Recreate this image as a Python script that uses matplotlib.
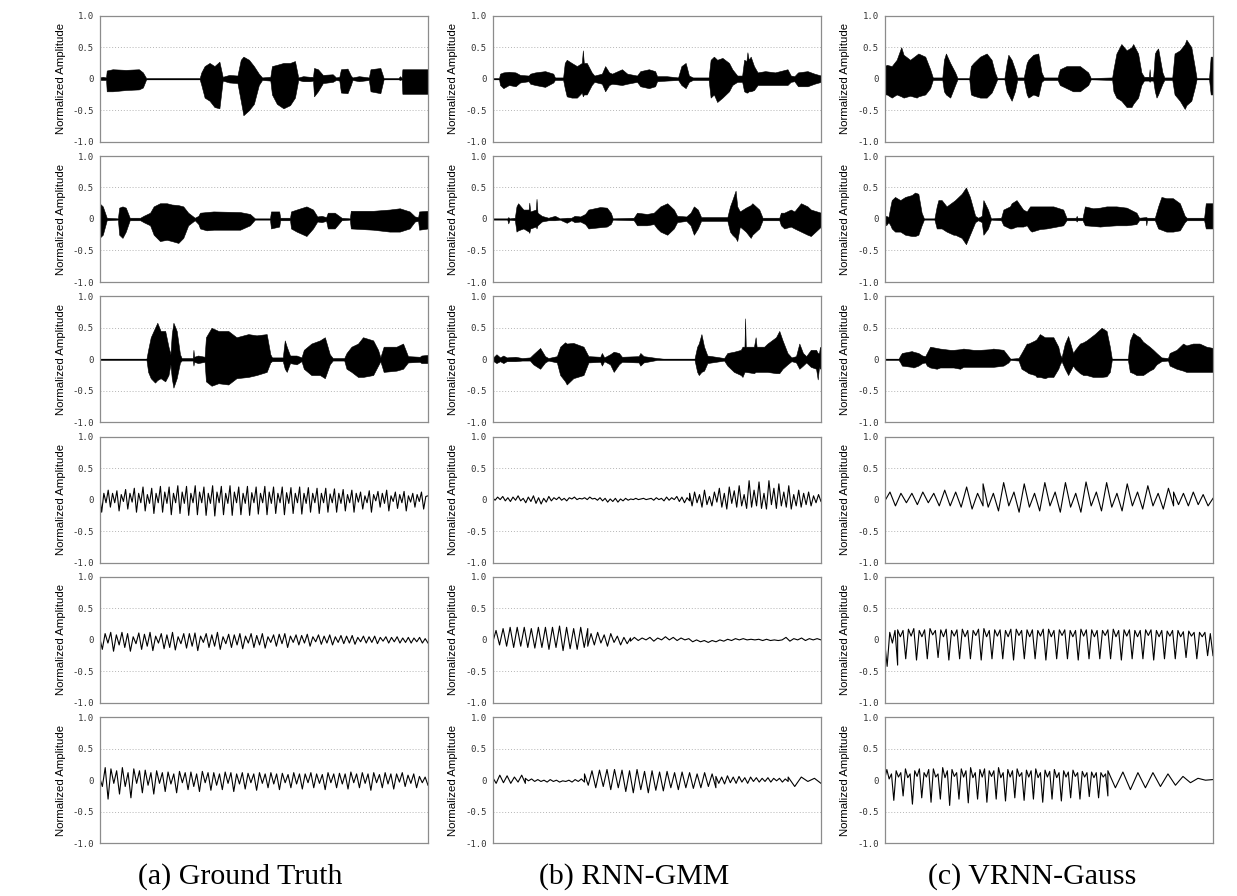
import numpy as np
import matplotlib
matplotlib.use("Agg")
import matplotlib.pyplot as plt

# ---- dense speech clips: envelope knots (time % of clip, upper, lower) ----
gt_1 = [(0, 0.02, -0.02), (1, 0.03, -0.02), (2, 0.02, -0.02), (2.2, 0.13, -0.2), (4, 0.15, -0.2),
        (8, 0.14, -0.18), (12, 0.15, -0.17), (13.2, 0.1, -0.14), (14.2, 0.01, -0.01), (30.5, 0.01, -0.01),
        (31, 0.1, -0.1), (32, 0.2, -0.3), (33.5, 0.25, -0.35), (35, 0.2, -0.45), (36.5, 0.27, -0.47),
        (37.5, 0.03, -0.03), (39.5, 0.06, -0.06), (42, 0.05, -0.07), (43, 0.3, -0.35), (43.8, 0.35, -0.58),
        (45.5, 0.3, -0.5), (47, 0.2, -0.4), (48.5, 0.08, -0.1), (49.5, 0.02, -0.02), (52, 0.03, -0.03),
        (52.5, 0.2, -0.25), (54, 0.22, -0.4), (56, 0.25, -0.47), (58, 0.25, -0.42), (59.5, 0.28, -0.3),
        (60.5, 0.02, -0.02), (62, 0.04, -0.04), (64, 0.03, -0.04), (65, 0.03, -0.03), (65.3, 0.17, -0.28),
        (66.5, 0.15, -0.2), (68, 0.06, -0.07), (71, 0.07, -0.05), (72, 0.02, -0.02), (73, 0.03, -0.03),
        (73.5, 0.15, -0.22), (75.5, 0.16, -0.23), (76.5, 0.05, -0.1), (77, 0.02, -0.02), (79, 0.04, -0.04),
        (82, 0.02, -0.02), (82.5, 0.15, -0.2), (85.5, 0.17, -0.23), (86.5, 0.01, -0.01), (91, 0.01, -0.01),
        (91.5, 0.04, -0.02), (92, 0.01, -0.01), (92.2, 0.15, -0.24), (100, 0.15, -0.24)]

gt_2 = [(0, 0.25, -0.3), (1, 0.2, -0.25), (2.2, 0.02, -0.02), (5.6, 0.01, -0.01), (6, 0.18, -0.25),
        (7, 0.2, -0.3), (8, 0.18, -0.2), (9.2, 0.02, -0.02), (12.4, 0.02, -0.02), (13.4, 0.05, -0.05),
        (15.4, 0.1, -0.1), (16.5, 0.2, -0.25), (18.4, 0.25, -0.35), (20.5, 0.25, -0.33), (22, 0.23, -0.35),
        (24, 0.22, -0.38), (25.5, 0.2, -0.3), (27, 0.1, -0.1), (29, 0.02, -0.02), (30.1, 0.05, -0.08),
        (30.6, 0.1, -0.15), (32.6, 0.11, -0.18), (34.7, 0.12, -0.17), (42.8, 0.11, -0.17), (45.8, 0.08, -0.1),
        (47.3, 0.01, -0.01), (51.9, 0.01, -0.01), (52.2, 0.12, -0.15), (54.7, 0.12, -0.12), (55, 0.02, -0.02),
        (58, 0.02, -0.02), (58.3, 0.12, -0.15), (60, 0.15, -0.2), (63, 0.2, -0.27), (65, 0.15, -0.15),
        (66.3, 0.04, -0.04), (67.6, 0.05, -0.05), (69, 0.03, -0.03), (69.5, 0.1, -0.15), (71.6, 0.1, -0.15),
        (73.7, 0.02, -0.02), (76.2, 0.01, -0.01), (76.5, 0.13, -0.15), (83.3, 0.13, -0.17), (88.3, 0.15, -0.2),
        (91.4, 0.17, -0.2), (94.4, 0.12, -0.15), (96, 0.04, -0.04), (97, 0.03, -0.03), (97.3, 0.12, -0.17),
        (100, 0.13, -0.15)]

gt_3 = [(0, 0.01, -0.01), (14.3, 0.01, -0.01), (14.8, 0.15, -0.2), (15.6, 0.35, -0.3), (16.9, 0.5, -0.37),
        (17.6, 0.58, -0.33), (18.6, 0.45, -0.3), (20, 0.45, -0.35), (21, 0.2, -0.25), (21.6, 0.08, -0.08),
        (22, 0.4, -0.3), (22.5, 0.58, -0.45), (23.5, 0.45, -0.3), (24.5, 0.08, -0.05), (25, 0.02, -0.02),
        (28.4, 0.02, -0.02), (28.6, 0.15, -0.1), (28.8, 0.04, -0.04), (30, 0.06, -0.06), (32, 0.04, -0.04),
        (32.4, 0.35, -0.35), (34.1, 0.5, -0.42), (36.2, 0.45, -0.38), (39.2, 0.45, -0.4), (41.7, 0.35, -0.3),
        (45.3, 0.4, -0.28), (47.8, 0.38, -0.25), (50.9, 0.4, -0.2), (52, 0.08, -0.05), (52.5, 0.03, -0.03),
        (55.8, 0.03, -0.03), (56.4, 0.3, -0.15), (57, 0.2, -0.2), (58, 0.06, -0.06), (60, 0.06, -0.08),
        (61.5, 0.03, -0.03), (62.2, 0.15, -0.15), (64.5, 0.25, -0.25), (67.1, 0.3, -0.25), (68.6, 0.35, -0.3),
        (70.1, 0.08, -0.08), (71, 0.02, -0.02), (74.5, 0.02, -0.02), (75.2, 0.1, -0.15), (76.7, 0.2, -0.2),
        (78.7, 0.25, -0.28), (80.2, 0.35, -0.28), (83.3, 0.3, -0.25), (84.8, 0.15, -0.1), (85.5, 0.03, -0.03),
        (86.5, 0.2, -0.2), (90.4, 0.2, -0.18), (92.4, 0.25, -0.15), (93.9, 0.05, -0.05), (97.5, 0.04, -0.04),
        (98, 0.06, -0.06), (100, 0.07, -0.06)]

rnn_1 = [(0, 0.01, -0.01), (2, 0.01, -0.01), (2.3, 0.08, -0.1), (3.3, 0.1, -0.15), (5, 0.11, -0.1),
         (7, 0.1, -0.12), (8.4, 0.06, -0.06), (11, 0.05, -0.04), (11.5, 0.08, -0.08), (13, 0.1, -0.1),
         (16, 0.12, -0.13), (18.5, 0.08, -0.06), (19, 0.02, -0.02), (21.5, 0.02, -0.02), (22, 0.25, -0.15),
         (22.6, 0.3, -0.28), (24.1, 0.25, -0.3), (25.7, 0.2, -0.3), (27.2, 0.25, -0.22), (27.5, 0.45, -0.28),
         (27.8, 0.25, -0.25), (28.7, 0.25, -0.25), (30.2, 0.1, -0.1), (31, 0.05, -0.05), (33.3, 0.08, -0.08),
         (34.3, 0.2, -0.2), (35.5, 0.1, -0.1), (36.4, 0.08, -0.08), (39.4, 0.15, -0.1), (41, 0.08, -0.08),
         (44, 0.05, -0.05), (45, 0.12, -0.12), (47.6, 0.15, -0.15), (49.5, 0.12, -0.12), (50.1, 0.04, -0.04),
         (53, 0.04, -0.03), (56.5, 0.02, -0.02), (57.5, 0.2, -0.1), (58.8, 0.25, -0.15), (59.8, 0.05, -0.05),
         (61, 0.02, -0.02), (65.8, 0.02, -0.02), (66.4, 0.3, -0.3), (67.4, 0.35, -0.25), (68.4, 0.3, -0.37),
         (70, 0.33, -0.3), (72, 0.25, -0.2), (73, 0.15, -0.1), (74.5, 0.05, -0.05), (76, 0.05, -0.05),
         (76.6, 0.3, -0.2), (77.3, 0.28, -0.22), (77.6, 0.42, -0.22), (78, 0.3, -0.2), (78.6, 0.35, -0.2),
         (79.6, 0.2, -0.18), (80.7, 0.1, -0.1), (83, 0.12, -0.1), (86, 0.1, -0.1), (89.8, 0.15, -0.1),
         (90.8, 0.05, -0.05), (91.9, 0.04, -0.04), (93, 0.1, -0.12), (95.9, 0.12, -0.12), (98, 0.08, -0.08),
         (100, 0.05, -0.05)]

rnn_2 = [(0, 0.01, -0.01), (4.5, 0.01, -0.01), (4.8, 0.03, -0.07), (5.2, 0.01, -0.01), (6.8, 0.02, -0.02),
         (7.3, 0.2, -0.2), (7.8, 0.25, -0.18), (9.4, 0.15, -0.15), (11, 0.15, -0.2), (11.2, 0.26, -0.22),
         (11.5, 0.12, -0.15), (13.2, 0.15, -0.12), (13.4, 0.32, -0.15), (13.7, 0.1, -0.1), (15, 0.05, -0.04),
         (17, 0.02, -0.02), (19, 0.05, -0.02), (20.5, 0.01, -0.01), (22.6, 0.02, -0.06), (24, 0.02, -0.02),
         (25, 0.05, -0.05), (26.7, 0.04, -0.04), (28.2, 0.08, -0.08), (29.2, 0.15, -0.15), (32.8, 0.19, -0.13),
         (34.8, 0.18, -0.12), (36, 0.1, -0.08), (36.6, 0.01, -0.01), (43, 0.02, -0.02), (44, 0.1, -0.1),
         (47, 0.08, -0.1), (49.1, 0.1, -0.08), (50.1, 0.15, -0.15), (51.1, 0.2, -0.2), (53.2, 0.25, -0.25),
         (55.2, 0.15, -0.15), (56.2, 0.05, -0.05), (59, 0.04, -0.03), (60.3, 0.1, -0.1), (61.3, 0.2, -0.25),
         (62.5, 0.15, -0.15), (63.5, 0.03, -0.03), (71.5, 0.03, -0.03), (72.3, 0.2, -0.2), (73, 0.3, -0.25),
         (74, 0.45, -0.3), (74.5, 0.2, -0.35), (75.3, 0.12, -0.12), (77.1, 0.18, -0.2), (78.6, 0.22, -0.3),
         (79.1, 0.25, -0.25), (81.2, 0.15, -0.15), (82.2, 0.02, -0.02), (87.3, 0.02, -0.02), (87.8, 0.1, -0.1),
         (88.8, 0.1, -0.15), (90.8, 0.15, -0.12), (91.9, 0.12, -0.15), (93.9, 0.25, -0.2), (95.9, 0.2, -0.25),
         (96.9, 0.15, -0.27), (100, 0.1, -0.12)]

rnn_3 = [(0, 0.02, -0.02), (1.2, 0.08, -0.06), (2.3, 0.03, -0.03), (3.3, 0.06, -0.06), (4.3, 0.03, -0.03),
         (7, 0.04, -0.03), (9, 0.02, -0.02), (11.4, 0.03, -0.02), (12.4, 0.08, -0.08), (14.5, 0.18, -0.15),
         (16, 0.05, -0.05), (17, 0.02, -0.02), (19.6, 0.05, -0.05), (20.6, 0.2, -0.25), (22.1, 0.27, -0.35),
         (22.6, 0.25, -0.4), (24.6, 0.26, -0.3), (27.7, 0.2, -0.25), (29.2, 0.05, -0.05), (32.8, 0.04, -0.04),
         (33.3, 0.1, -0.1), (34, 0.03, -0.03), (35.8, 0.08, -0.08), (36.9, 0.12, -0.2), (38.5, 0.1, -0.08),
         (39.4, 0.04, -0.04), (44.5, 0.05, -0.05), (45, 0.1, -0.1), (46, 0.05, -0.05), (50.1, 0.02, -0.01),
         (52, 0.01, -0.01), (61.5, 0.01, -0.01), (62.3, 0.2, -0.2), (62.8, 0.25, -0.25), (63.6, 0.4, -0.2),
         (64.4, 0.2, -0.18), (65.4, 0.06, -0.06), (68, 0.04, -0.04), (70.5, 0.02, -0.02), (71.5, 0.1, -0.1),
         (73.5, 0.12, -0.2), (75.6, 0.15, -0.25), (76.1, 0.2, -0.28), (76.7, 0.2, -0.2), (76.9, 0.65, -0.2),
         (77.1, 0.2, -0.2), (79.6, 0.2, -0.22), (80.1, 0.35, -0.2), (80.4, 0.2, -0.2), (82.7, 0.2, -0.2),
         (83.7, 0.25, -0.2), (86.3, 0.35, -0.22), (87.3, 0.45, -0.22), (88.3, 0.3, -0.15), (89.8, 0.1, -0.08),
         (91, 0.03, -0.03), (92.4, 0.05, -0.05), (93.4, 0.25, -0.15), (94.5, 0.1, -0.1), (95.5, 0.05, -0.05),
         (96.9, 0.15, -0.12), (98.5, 0.15, -0.15), (99, 0.1, -0.32), (99.4, 0.1, -0.12), (99.7, 0.2, -0.15),
         (100, 0.1, -0.1)]

vrnn_1 = [(0, 0.2, -0.25), (0.7, 0.22, -0.25), (2.2, 0.2, -0.3), (3.7, 0.3, -0.25), (5.1, 0.5, -0.28),
          (5.8, 0.38, -0.3), (7.8, 0.3, -0.27), (9.8, 0.38, -0.3), (10.3, 0.4, -0.28), (12.4, 0.35, -0.25),
          (13.9, 0.15, -0.15), (14.7, 0.02, -0.02), (17.6, 0.02, -0.02), (18.1, 0.3, -0.2), (18.7, 0.4, -0.25),
          (20, 0.25, -0.3), (21.5, 0.1, -0.1), (22.2, 0.01, -0.01), (25.8, 0.01, -0.01), (26.3, 0.2, -0.25),
          (27.1, 0.25, -0.27), (29.1, 0.35, -0.3), (31.1, 0.4, -0.3), (32.6, 0.3, -0.22), (33.6, 0.1, -0.1),
          (34.3, 0.01, -0.01), (36.5, 0.01, -0.01), (37.2, 0.25, -0.2), (37.7, 0.38, -0.25), (38.7, 0.3, -0.35),
          (39.7, 0.15, -0.2), (40.4, 0.02, -0.02), (42.4, 0.02, -0.02), (43.3, 0.25, -0.25), (43.8, 0.3, -0.3),
          (45.3, 0.38, -0.25), (46.8, 0.4, -0.28), (47.8, 0.1, -0.05), (48.5, 0.02, -0.02), (52.7, 0.02, -0.02),
          (53.4, 0.15, -0.1), (55.4, 0.2, -0.15), (57.4, 0.2, -0.2), (59.5, 0.2, -0.2), (62, 0.1, -0.1),
          (62.8, 0.01, -0.01), (69.3, 0.02, -0.02), (69.7, 0.15, -0.2), (70.6, 0.4, -0.3), (72.1, 0.55, -0.35),
          (73.7, 0.45, -0.45), (75.2, 0.5, -0.45), (75.7, 0.55, -0.4), (77.2, 0.4, -0.3), (78.2, 0.1, -0.1),
          (79, 0.03, -0.03), (80.5, 0.03, -0.03), (80.7, 0.15, -0.05), (80.9, 0.03, -0.03), (81.8, 0.03, -0.03),
          (82.3, 0.4, -0.2), (82.8, 0.45, -0.3), (83.3, 0.48, -0.25), (84.6, 0.1, -0.08), (85.2, 0.02, -0.02),
          (87.6, 0.02, -0.02), (88.3, 0.4, -0.25), (89.9, 0.45, -0.35), (91.4, 0.55, -0.48), (91.9, 0.62, -0.42),
          (93.4, 0.5, -0.35), (94.4, 0.2, -0.15), (95, 0.01, -0.01), (98.8, 0.01, -0.01), (99.3, 0.35, -0.25),
          (100, 0.35, -0.25)]

vrnn_2 = [(0, 0.02, -0.02), (0.5, 0.05, -0.1), (1.2, 0.03, -0.05), (1.8, 0.2, -0.1), (2.2, 0.3, -0.15),
          (3.2, 0.35, -0.2), (4.8, 0.3, -0.2), (6.3, 0.35, -0.25), (8.3, 0.38, -0.27), (9.3, 0.42, -0.27),
          (10.3, 0.4, -0.25), (11.3, 0.1, -0.1), (12, 0.01, -0.01), (15.2, 0.01, -0.01), (15.9, 0.2, -0.15),
          (16.4, 0.3, -0.15), (17.4, 0.3, -0.15), (18.9, 0.2, -0.2), (21, 0.28, -0.25), (21.5, 0.3, -0.25),
          (23.5, 0.4, -0.3), (24.8, 0.5, -0.4), (26, 0.35, -0.25), (27.6, 0.05, -0.05), (28.5, 0.02, -0.02),
          (29.6, 0.05, -0.05), (30.1, 0.3, -0.25), (31.5, 0.15, -0.15), (32.4, 0.01, -0.01), (35.5, 0.02, -0.02),
          (36.2, 0.15, -0.1), (38.2, 0.2, -0.15), (38.7, 0.25, -0.15), (40.2, 0.3, -0.12), (42.2, 0.15, -0.12),
          (43.3, 0.12, -0.1), (44.3, 0.2, -0.18), (44.8, 0.2, -0.2), (47.3, 0.2, -0.16), (49.3, 0.2, -0.15),
          (51.4, 0.2, -0.13), (54.4, 0.15, -0.1), (55.4, 0.02, -0.02), (58.3, 0.02, -0.02), (58.5, 0.05, -0.04),
          (58.7, 0.02, -0.02), (60.3, 0.02, -0.02), (61, 0.2, -0.1), (63.5, 0.17, -0.11), (65.6, 0.18, -0.12),
          (67.6, 0.2, -0.11), (70.6, 0.2, -0.1), (73.7, 0.18, -0.1), (76.7, 0.1, -0.08), (77.5, 0.02, -0.02),
          (79.5, 0.03, -0.02), (79.7, 0.03, -0.1), (79.9, 0.02, -0.02), (82.3, 0.02, -0.02), (83.3, 0.2, -0.15),
          (84.3, 0.35, -0.17), (85.8, 0.33, -0.2), (87.8, 0.33, -0.2), (89.9, 0.25, -0.18), (91.4, 0.05, -0.05),
          (92, 0.02, -0.02), (97.3, 0.02, -0.02), (97.8, 0.25, -0.15), (100, 0.25, -0.15)]

vrnn_3 = [(0, 0.01, -0.01), (4.3, 0.01, -0.01), (4.8, 0.06, -0.05), (5.3, 0.1, -0.1), (8.3, 0.13, -0.12),
          (8.8, 0.12, -0.13), (10.3, 0.1, -0.1), (11.5, 0.06, -0.06), (12.4, 0.05, -0.05), (12.9, 0.1, -0.1),
          (13.9, 0.2, -0.13), (15.9, 0.18, -0.15), (16.9, 0.17, -0.13), (20, 0.15, -0.13), (21, 0.15, -0.13),
          (23, 0.16, -0.15), (24, 0.17, -0.12), (27.1, 0.15, -0.12), (29.1, 0.15, -0.12), (32.1, 0.16, -0.12),
          (33.1, 0.17, -0.12), (36.2, 0.15, -0.1), (37.7, 0.05, -0.05), (38.3, 0.01, -0.01), (40.8, 0.02, -0.02),
          (41.7, 0.1, -0.15), (43.3, 0.25, -0.2), (43.8, 0.25, -0.22), (45.8, 0.3, -0.25), (46.3, 0.32, -0.28),
          (47.3, 0.4, -0.28), (48.8, 0.35, -0.3), (49.8, 0.35, -0.28), (51.4, 0.35, -0.28), (52.9, 0.2, -0.15),
          (53.4, 0.08, -0.08), (53.9, 0.03, -0.03), (54.9, 0.25, -0.15), (55.9, 0.37, -0.25), (57.4, 0.1, -0.1),
          (58, 0.15, -0.15), (59.5, 0.25, -0.22), (60.5, 0.27, -0.25), (61.5, 0.3, -0.25), (63.5, 0.38, -0.28),
          (64, 0.4, -0.28), (66.1, 0.5, -0.28), (67.6, 0.45, -0.27), (68.6, 0.2, -0.2), (69.2, 0.01, -0.01),
          (74.1, 0.01, -0.01), (74.7, 0.3, -0.2), (75.7, 0.42, -0.22), (76.7, 0.38, -0.25), (77.7, 0.35, -0.25),
          (78.7, 0.28, -0.25), (80.7, 0.2, -0.18), (81.8, 0.15, -0.15), (82.8, 0.1, -0.08), (84.3, 0.03, -0.03),
          (86.3, 0.02, -0.02), (86.8, 0.1, -0.1), (88.9, 0.15, -0.15), (90.9, 0.25, -0.18), (91.9, 0.22, -0.2),
          (93.9, 0.25, -0.2), (95.9, 0.25, -0.2), (98, 0.2, -0.2), (100, 0.18, -0.2)]

# ---- zoomed-in segments: successive peaks/troughs, (start %, end %, extrema) ----
gt_4 = [(0, 100, [
    0.08, -0.2, 0.1, -0.05, 0.15, -0.12, 0.1, -0.05, 0.14, -0.18, 0.08, -0.03, 0.16, -0.15, 0.1, -0.04,
    0.18, -0.2, 0.1, -0.05, 0.2, -0.18, 0.08, -0.06, 0.18, -0.22, 0.1, -0.05, 0.21, -0.2, 0.12, -0.06,
    0.2, -0.24, 0.1, -0.05, 0.22, -0.22, 0.12, -0.06, 0.21, -0.25, 0.1, -0.05, 0.22, -0.24, 0.12, -0.05,
    0.2, -0.25, 0.1, -0.06, 0.22, -0.26, 0.12, -0.05, 0.21, -0.24, 0.1, -0.06, 0.22, -0.25, 0.12, -0.05,
    0.2, -0.24, 0.1, -0.06, 0.21, -0.25, 0.11, -0.05, 0.2, -0.23, 0.1, -0.05, 0.21, -0.24, 0.12, -0.06,
    0.2, -0.22, 0.1, -0.05, 0.2, -0.24, 0.11, -0.06, 0.19, -0.22, 0.1, -0.05, 0.2, -0.23, 0.1, -0.06,
    0.19, -0.2, 0.1, -0.05, 0.18, -0.22, 0.1, -0.05, 0.18, -0.2, 0.09, -0.05, 0.17, -0.2, 0.1, -0.06,
    0.16, -0.18, 0.08, -0.05, 0.15, -0.2, 0.1, -0.04, 0.12, -0.15, 0.06, -0.05, 0.14, -0.2, 0.08, -0.02,
    0.13, -0.12, 0.1, -0.06, 0.15, -0.18, 0.06, -0.03, 0.12, -0.14, 0.08, -0.05, 0.13, -0.18, 0.06, -0.04,
    0.1, -0.12, 0.08, -0.03, 0.12, -0.15, 0.05, 0.06])]

rnn_4 = [(0, 60, [
    0.03, -0.01, 0.04, 0.0, 0.05, -0.02, 0.03, -0.03, 0.04, -0.01, 0.06, -0.02, 0.02, -0.05, 0.04, -0.03,
    0.06, -0.06, 0.03, -0.07, 0.02, -0.04, 0.05, -0.02, 0.03, 0.0, 0.04, -0.01, 0.02, -0.02, 0.03, 0.01,
    0.04, 0.0, 0.02, 0.01, 0.03, 0.0, 0.04, 0.01, 0.02, -0.01, 0.03, -0.02, 0.02, -0.04, 0.01, -0.03,
    0.02, -0.04, 0.01, -0.02, 0.02, -0.01, 0.01, 0.0, 0.02, 0.0, 0.01, 0.02, 0.0, 0.01, 0.02, -0.01,
    0.03, 0.0, 0.02, -0.02, 0.04, -0.01, 0.03, 0.0, 0.05, -0.03, 0.04, -0.05, 0.03, -0.02]),
         (60, 100, [
    0.1, -0.1, 0.12, -0.05, 0.08, -0.12, 0.15, -0.08, 0.05, -0.1, 0.12, -0.04, 0.18, -0.12, 0.1, -0.15,
    0.2, -0.06, 0.14, -0.12, 0.22, -0.1, 0.08, -0.14, 0.3, -0.12, 0.15, -0.1, 0.28, -0.14, 0.1, -0.15,
    0.3, -0.08, 0.18, -0.14, 0.25, -0.1, 0.12, -0.12, 0.22, -0.15, 0.08, -0.1, 0.15, -0.12, 0.1, -0.08,
    0.12, -0.1, 0.06, -0.05, 0.08, -0.03])]

vrnn_4 = [(0, 30, [-0.03, 0.12, -0.1, 0.1, -0.05, 0.1, -0.08, 0.12, -0.05, 0.1, -0.1, 0.15, -0.1, 0.12,
                   -0.12, 0.2, -0.15, 0.1, -0.1]),
          (30, 88, [0.25, -0.12, 0.1, -0.18, 0.27, -0.1, 0.12, -0.2, 0.25, -0.12, 0.1, -0.18, 0.27, -0.1,
                    0.12, -0.2, 0.27, -0.12, 0.1, -0.2, 0.28, -0.1, 0.12, -0.18, 0.27, -0.12, 0.1, -0.18,
                    0.25, -0.1, 0.12, -0.15, 0.22, -0.1, 0.1, -0.15, 0.18, -0.1]),
          (88, 100, [0.12, -0.08, 0.1, -0.1, 0.12, -0.08, 0.08, -0.1, 0.02])]

gt_5 = [(0, 100, [
    0.05, -0.15, 0.1, -0.05, 0.12, -0.18, 0.08, -0.08, 0.12, -0.12, 0.1, -0.18, 0.05, -0.06, 0.11, -0.15,
    0.09, -0.1, 0.12, -0.17, 0.06, -0.05, 0.1, -0.14, 0.08, -0.12, 0.12, -0.16, 0.05, -0.06, 0.1, -0.13,
    0.1, -0.1, 0.11, -0.17, 0.06, -0.04, 0.1, -0.12, 0.08, -0.1, 0.12, -0.15, 0.05, -0.06, 0.09, -0.12,
    0.08, -0.08, 0.1, -0.14, 0.06, -0.05, 0.1, -0.12, 0.07, -0.08, 0.1, -0.13, 0.05, -0.04, 0.08, -0.1,
    0.09, -0.06, 0.1, -0.12, 0.06, -0.04, 0.08, -0.08, 0.07, -0.05, 0.09, -0.1, 0.05, -0.03, 0.08, -0.07,
    0.06, -0.05, 0.08, -0.08, 0.05, -0.04, 0.07, -0.06, 0.06, -0.05, 0.07, -0.07, 0.04, -0.03, 0.06, -0.05,
    0.05, -0.04, 0.06, -0.06, 0.04, -0.02, 0.05, -0.05, 0.04, -0.03, 0.05, -0.05, 0.03, -0.04, 0.04, -0.05,
    0.03, -0.03, 0.04, -0.05, 0.02, -0.05])]

rnn_5 = [(0, 29, [-0.05, 0.15, -0.08, 0.18, -0.1, 0.2, -0.12, 0.2, -0.1, 0.2, -0.12, 0.18, -0.13, 0.2,
                  -0.12, 0.2, -0.15, 0.2, -0.12, 0.22, -0.17, 0.2, -0.14, 0.18, -0.15, 0.2, -0.12, 0.18]),
         (29, 42, [-0.1, 0.1, -0.08, 0.12, -0.05, 0.08, -0.1, 0.1, -0.04, 0.06, -0.08, 0.04, -0.06, 0.03]),
         (42, 100, [-0.02, 0.04, -0.01, 0.03, 0.0, 0.04, -0.02, 0.03, 0.0, 0.05, 0.0, 0.04, -0.01, 0.03,
                    0.0, 0.02, -0.03, 0.0, -0.03, -0.01, -0.04, -0.01, -0.03, 0.0, -0.02, 0.01, -0.01, 0.02,
                    0.0, 0.02, 0.0, 0.01, 0.0, 0.01, -0.01, 0.01, -0.01, 0.0, -0.01, 0.0, 0.04, -0.02, 0.02,
                    0.0, 0.03, -0.01, 0.02, 0.0, 0.02, 0.0])]

vrnn_5 = [(0, 4, [0.0, -0.42, 0.12, -0.05, 0.15, -0.4]),
          (4, 100, [
    0.16, 0.05, 0.15, -0.3, 0.17, 0.06, 0.18, -0.32, 0.15, 0.05, 0.16, -0.3, 0.18, 0.08, 0.15, -0.28,
    0.16, 0.05, 0.17, -0.32, 0.15, 0.06, 0.16, -0.3, 0.17, 0.05, 0.15, -0.3, 0.15, 0.07, 0.17, -0.32,
    0.18, 0.05, 0.15, -0.3, 0.16, 0.06, 0.16, -0.3, 0.15, 0.05, 0.17, -0.32, 0.17, 0.07, 0.15, -0.3,
    0.16, 0.05, 0.16, -0.3, 0.15, 0.06, 0.17, -0.32, 0.17, 0.05, 0.15, -0.3, 0.16, 0.07, 0.16, -0.3,
    0.15, 0.05, 0.15, -0.32, 0.17, 0.06, 0.16, -0.3, 0.16, 0.05, 0.15, -0.3, 0.15, 0.07, 0.16, -0.3,
    0.17, 0.05, 0.15, -0.32, 0.16, 0.06, 0.16, -0.3, 0.15, 0.05, 0.15, -0.3, 0.16, 0.07, 0.16, -0.32,
    0.15, 0.05, 0.15, -0.3, 0.14, 0.06, 0.15, -0.3, 0.15, 0.05, 0.13, -0.28, 0.14, 0.06, 0.12, -0.3,
    0.12, 0.05, 0.12, -0.25, 0.1, -0.25])]

gt_6 = [(0, 100, [
    0.05, -0.1, 0.2, -0.3, 0.18, -0.05, 0.15, -0.22, 0.2, -0.1, 0.12, -0.28, 0.18, -0.05, 0.15, -0.2,
    0.16, -0.08, 0.12, -0.22, 0.15, -0.05, 0.12, -0.18, 0.13, -0.06, 0.1, -0.2, 0.14, -0.04, 0.12, -0.15,
    0.13, -0.1, 0.1, -0.18, 0.14, -0.04, 0.12, -0.16, 0.12, -0.08, 0.1, -0.15, 0.13, -0.05, 0.12, -0.18,
    0.1, -0.06, 0.12, -0.14, 0.11, -0.04, 0.1, -0.16, 0.12, -0.05, 0.1, -0.12, 0.12, -0.06, 0.1, -0.15,
    0.11, -0.04, 0.09, -0.12, 0.12, -0.06, 0.1, -0.14, 0.1, -0.04, 0.12, -0.12, 0.1, -0.05, 0.09, -0.15,
    0.12, -0.04, 0.1, -0.12, 0.11, -0.06, 0.1, -0.14, 0.13, -0.04, 0.1, -0.12, 0.12, -0.05, 0.1, -0.16,
    0.12, -0.04, 0.09, -0.12, 0.12, -0.06, 0.1, -0.14, 0.1, -0.03, 0.12, -0.1, 0.08, -0.05, 0.1, -0.12,
    0.06, -0.04, 0.05, -0.08])]

rnn_6 = [(0, 10, [0.05, -0.05, 0.08, -0.04, 0.07, -0.05, 0.05, -0.03, 0.08, -0.05]),
         (10, 28, [0.03, -0.01, 0.02, -0.02, 0.01, -0.02, 0.0, -0.03, 0.01, -0.02, 0.0, -0.03, -0.01,
                   -0.02, 0.0, -0.03, 0.01, -0.02, 0.02, -0.03]),
         (28, 68, [0.1, -0.08, 0.15, -0.12, 0.16, -0.1, 0.17, -0.15, 0.17, -0.12, 0.16, -0.18, 0.15, -0.2,
                   0.17, -0.15, 0.14, -0.2, 0.15, -0.16, 0.13, -0.17, 0.14, -0.12, 0.12, -0.15, 0.13, -0.12,
                   0.12, -0.13, 0.1, -0.12, 0.12, -0.1, 0.1, -0.12]),
         (68, 90, [0.06, -0.05, 0.05, -0.06, 0.07, -0.04, 0.05, -0.05, 0.06, -0.03, 0.04, -0.05, 0.05,
                   -0.02, 0.04, -0.03, 0.03, -0.02, 0.04, -0.03, 0.03, -0.01, 0.03, -0.03, 0.02, -0.02]),
         (90, 100, [0.05, -0.1, 0.05, -0.02, 0.03, -0.05])]

vrnn_6 = [(0, 68, [
    0.0, 0.17, 0.02, 0.1, -0.32, 0.15, 0.05, 0.12, -0.25, 0.18, 0.04, 0.1, -0.38, 0.15, 0.06, 0.18,
    -0.28, 0.12, 0.05, 0.17, -0.35, 0.18, 0.05, 0.1, -0.3, 0.2, 0.04, 0.15, -0.4, 0.17, 0.06, 0.12,
    -0.3, 0.18, 0.05, 0.15, -0.36, 0.2, 0.04, 0.12, -0.3, 0.17, 0.05, 0.18, -0.35, 0.15, 0.06, 0.15,
    -0.3, 0.2, 0.04, 0.12, -0.33, 0.17, 0.05, 0.15, -0.28, 0.18, 0.06, 0.12, -0.32, 0.16, 0.05, 0.15,
    -0.3, 0.18, 0.04, 0.12, -0.35, 0.16, 0.05, 0.14, -0.3, 0.17, 0.04, 0.12, -0.33, 0.15, 0.05, 0.13,
    -0.28, 0.16, 0.06, 0.12, -0.3, 0.14, 0.05, 0.12, -0.26, 0.13, 0.04, 0.12, -0.28, 0.12, 0.05, 0.1,
    -0.25]),
          (68, 100, [0.15, -0.12, 0.13, -0.15, 0.12, -0.12, 0.12, -0.1, 0.1, -0.08, 0.06, -0.04, 0.03, 0.0,
                     0.01])]

dense_rows = [[gt_1, rnn_1, vrnn_1], [gt_2, rnn_2, vrnn_2], [gt_3, rnn_3, vrnn_3]]
wave_rows = [[gt_4, rnn_4, vrnn_4], [gt_5, rnn_5, vrnn_5], [gt_6, rnn_6, vrnn_6]]
captions = ["(a) Ground Truth", "(b) RNN-GMM", "(c) VRNN-Gauss"]
yticks = [-1.0, -0.5, 0.0, 0.5, 1.0]
ytick_labels = ["-1.0", "-0.5", "0", "0.5", "1.0"]

W, H = 1237, 896
col_left = [99.5, 492.5, 884.5]
col_width = 328.5
row_top = [15.7, 156.0, 296.3, 436.6, 576.9, 717.2]
row_height = 126
caption_x = [240, 634, 1032]

fig = plt.figure(figsize=(W / 100, H / 100), dpi=100)


def style(ax):
    ax.set_xlim(0, 100)
    ax.set_ylim(-1, 1)
    ax.set_xticks([])
    ax.set_yticks(yticks)
    ax.set_yticklabels(ytick_labels, family="DejaVu Sans Mono", fontsize=6.5, color="#333333")
    ax.tick_params(axis="y", length=0, pad=4)
    for y in (-0.5, 0.5):
        ax.axhline(y, color="#b5b5b5", lw=0.7, ls=(0, (1, 2)), zorder=0)
    for sp in ax.spines.values():
        sp.set_color("#8c8c8c")
        sp.set_linewidth(0.9)
    ax.set_ylabel("Normalized Amplitude", family="Liberation Sans", fontsize=8.2, labelpad=5)


def make_ax(r, c):
    l = col_left[c] / W
    b = 1 - (row_top[r] + row_height) / H
    return fig.add_axes([l, b, col_width / W, row_height / H])


for r, row in enumerate(dense_rows):
    for c, knots in enumerate(row):
        ax = make_ax(r, c)
        k = np.array(knots)
        ax.axhline(0, color="black", lw=0.7, zorder=1)
        ax.fill_between(k[:, 0], k[:, 2], k[:, 1], color="black", lw=0.4, edgecolor="black", zorder=2)
        style(ax)

for r, row in enumerate(wave_rows):
    for c, segs in enumerate(row):
        ax = make_ax(r + 3, c)
        xs, ys = [], []
        for x0, x1, vals in segs:
            xs.append(np.linspace(x0, x1, len(vals)))
            ys.append(np.array(vals))
        ax.plot(np.concatenate(xs), np.concatenate(ys), color="black", lw=0.8, zorder=2)
        style(ax)

for c, text in enumerate(captions):
    fig.text(caption_x[c] / W, 1 - 877 / H, text, ha="center", va="center",
             family="Liberation Serif", fontsize=21.5)

fig.savefig("out.png", dpi=100)
